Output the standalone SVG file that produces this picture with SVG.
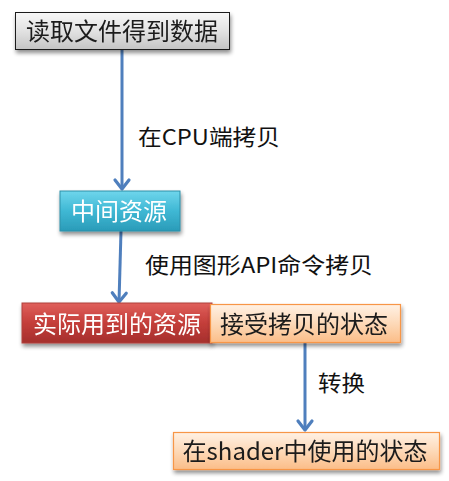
<svg xmlns="http://www.w3.org/2000/svg" width="449" height="481" viewBox="0 0 449 481">
  <defs>
    <linearGradient id="gGray" x1="0" y1="0" x2="0" y2="1">
      <stop offset="0" stop-color="#f7f7f7"/>
      <stop offset="0.5" stop-color="#e2e2e2"/>
      <stop offset="1" stop-color="#c4c4c4"/>
    </linearGradient>
    <linearGradient id="gTeal" x1="0" y1="0" x2="0" y2="1">
      <stop offset="0" stop-color="#6fd6ec"/>
      <stop offset="0.5" stop-color="#3fb8d4"/>
      <stop offset="1" stop-color="#2a9bb8"/>
    </linearGradient>
    <linearGradient id="gRed" x1="0" y1="0" x2="0" y2="1">
      <stop offset="0" stop-color="#e0605c"/>
      <stop offset="0.5" stop-color="#c43e3a"/>
      <stop offset="1" stop-color="#a52f2c"/>
    </linearGradient>
    <linearGradient id="gOrange" x1="0" y1="0" x2="0" y2="1">
      <stop offset="0" stop-color="#fff1e4"/>
      <stop offset="0.5" stop-color="#fdd9b8"/>
      <stop offset="1" stop-color="#fbbd88"/>
    </linearGradient>
    <filter id="shadow" x="-10%" y="-20%" width="130%" height="160%">
      <feGaussianBlur in="SourceAlpha" stdDeviation="2"/>
      <feOffset dx="1" dy="3" result="b"/>
      <feComponentTransfer><feFuncA type="linear" slope="0.45"/></feComponentTransfer>
      <feMerge><feMergeNode/><feMergeNode in="SourceGraphic"/></feMerge>
    </filter>
    <marker id="arrow" viewBox="0 0 14 18" refX="12" refY="9" markerWidth="14" markerHeight="18" markerUnits="userSpaceOnUse" orient="auto" overflow="visible">
      <path d="M3,2 L12,9 L3,16" fill="none" stroke="#4f7fbd" stroke-width="3.2" stroke-linecap="round" stroke-linejoin="round"/>
    </marker>
  </defs>
  <style>
    text { font-family: "Noto Sans CJK SC", "Noto Sans", sans-serif; font-size: 24px; }
    .dark { fill: #1a1a1a; }
    .light { fill: #ffffff; }
    .lbl { fill: #111111; font-size: 22px; }
    .conn { stroke: #4f7fbd; stroke-width: 3; fill: none; marker-end: url(#arrow); }
  </style>
  <rect width="449" height="481" fill="#ffffff"/>

  <g id="connectors">
    <line class="conn" x1="122" y1="50" x2="122" y2="189"/>
    <line class="conn" x1="121" y1="231" x2="119" y2="302"/>
    <line class="conn" x1="305" y1="343" x2="305" y2="430"/>
    <text class="lbl" x="138" y="145" textLength="142" lengthAdjust="spacingAndGlyphs">在CPU端拷贝</text>
    <text class="lbl" x="145" y="273" textLength="228" lengthAdjust="spacingAndGlyphs">使用图形API命令拷贝</text>
    <text class="lbl" x="318" y="391" textLength="47" lengthAdjust="spacingAndGlyphs">转换</text>
  </g>

  <g id="node-read" filter="url(#shadow)">
    <rect x="15.5" y="12.5" width="214" height="37" fill="url(#gGray)" stroke="#1e1e1e" stroke-width="1"/>
    <text class="dark" x="122" y="40" text-anchor="middle">读取文件得到数据</text>
  </g>

  <g id="node-mid" filter="url(#shadow)">
    <rect x="60" y="191" width="120" height="40" fill="url(#gTeal)" stroke="#2f8fa8" stroke-width="1"/>
    <text class="light" x="119" y="220" text-anchor="middle">中间资源</text>
  </g>

  <g id="node-actual" filter="url(#shadow)">
    <rect x="22" y="303" width="190" height="40" fill="url(#gRed)" stroke="#b0403c" stroke-width="1"/>
    <text class="light" x="117" y="333" text-anchor="middle">实际用到的资源</text>
  </g>

  <g id="node-accept" filter="url(#shadow)">
    <rect x="210.5" y="304.5" width="190" height="38" fill="url(#gOrange)" stroke="#f79646" stroke-width="1.2"/>
    <text class="dark" x="304" y="333" text-anchor="middle">接受拷贝的状态</text>
  </g>

  <g id="node-shader" filter="url(#shadow)">
    <rect x="173.5" y="432.5" width="266" height="37" fill="url(#gOrange)" stroke="#f79646" stroke-width="1.2"/>
    <text class="dark" x="305" y="460" text-anchor="middle">在shader中使用的状态</text>
  </g>
</svg>
